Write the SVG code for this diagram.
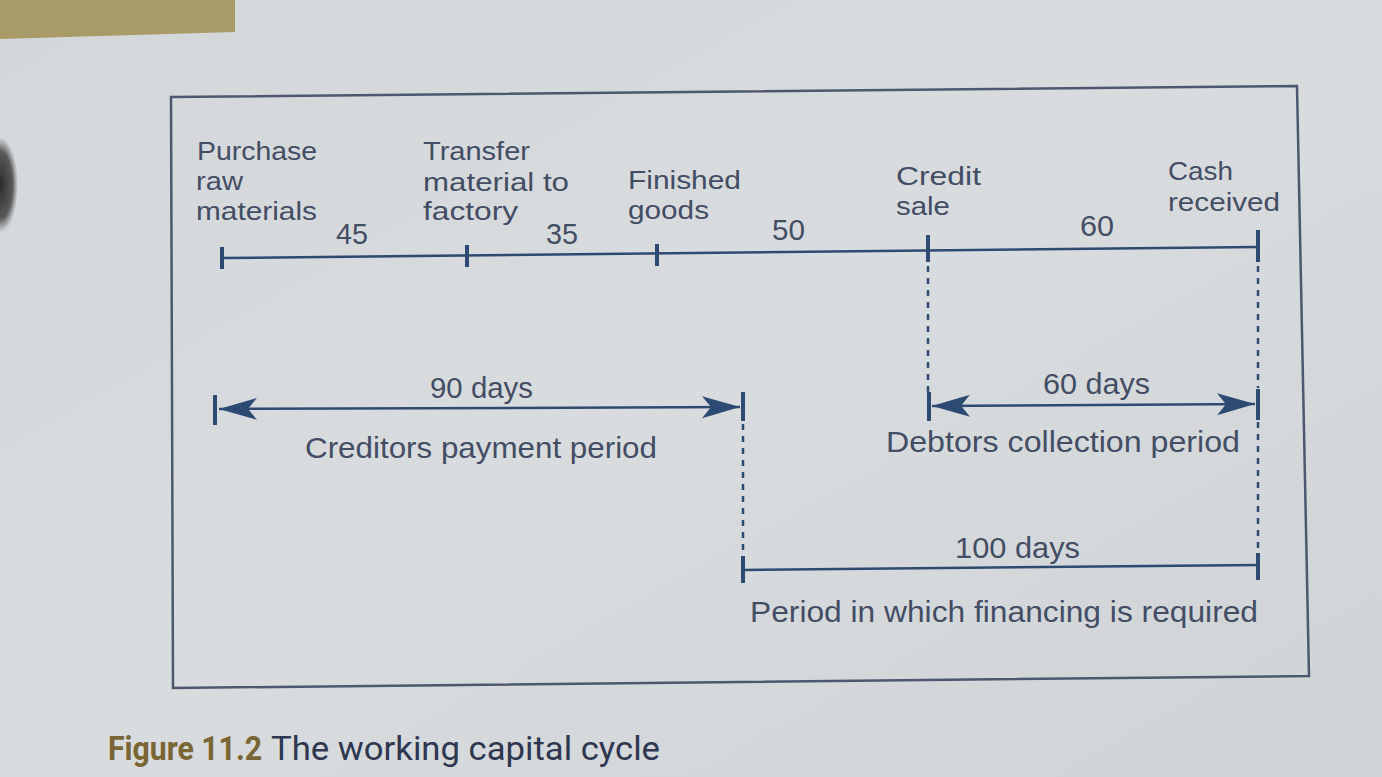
<svg xmlns="http://www.w3.org/2000/svg" width="1382" height="777" viewBox="0 0 1382 777">
<defs>
<linearGradient id="page" x1="0" y1="0" x2="1" y2="1">
<stop offset="0" stop-color="#d3d7da"/>
<stop offset="0.5" stop-color="#d9dcde"/>
<stop offset="1" stop-color="#cfd3d6"/>
</linearGradient>
<radialGradient id="blob" cx="0.5" cy="0.5" r="0.5">
<stop offset="0" stop-color="#2a2a2a"/>
<stop offset="0.7" stop-color="#3a3a3a" stop-opacity="0.8"/>
<stop offset="1" stop-color="#555" stop-opacity="0"/>
</radialGradient>
<marker id="ahEnd" viewBox="0 0 40 24" refX="38" refY="12" markerWidth="40" markerHeight="24" markerUnits="userSpaceOnUse" orient="auto">
<path d="M0,1 L38,12 L0,23 L9,12 Z" fill="#2d4a73"/>
</marker>
<marker id="ahStart" viewBox="0 0 40 24" refX="2" refY="12" markerWidth="40" markerHeight="24" markerUnits="userSpaceOnUse" orient="auto">
<path d="M40,1 L2,12 L40,23 L31,12 Z" fill="#2d4a73"/>
</marker>
</defs>
<style>
.t{font-family:"Liberation Sans",Arial,sans-serif;font-size:29px;fill:#434d64}
.s{font-size:26.5px}
.ln{stroke:#2f4a70;stroke-width:2.5;fill:none}
.tk{stroke:#2d4a73;stroke-width:4;fill:none}
.ds{stroke:#2d4a73;stroke-width:2.5;stroke-dasharray:6 6;fill:none}
.cap{font-family:Roboto,"Liberation Sans",sans-serif;font-size:33px}
</style>
<rect width="1382" height="777" fill="url(#page)"/>
<polygon points="0,0 235,0 235,32 0,39" fill="#a99b68"/>
<ellipse cx="0" cy="185" rx="18" ry="48" fill="url(#blob)"/>
<polygon points="171,97 1297,86 1309,676 173,688" fill="none" stroke="#4c5770" stroke-width="2.5"/>

<g id="connectors">
<line class="ln" x1="222" y1="258" x2="1258" y2="247"/>
<line class="tk" x1="222" y1="247" x2="222" y2="269"/>
<line class="tk" x1="467" y1="245" x2="467" y2="267"/>
<line class="tk" x1="657" y1="244" x2="657" y2="266"/>
<line class="tk" x1="928" y1="235" x2="928" y2="262"/>
<line class="tk" x1="1258" y1="230" x2="1258" y2="262"/>
<line class="ds" x1="928" y1="266" x2="928" y2="392"/>
<line class="ds" x1="1258" y1="266" x2="1258" y2="388"/>
<line class="ds" x1="1258" y1="422" x2="1258" y2="554"/>
<line class="ds" x1="743" y1="424" x2="743" y2="556"/>
<line class="tk" x1="215" y1="395" x2="215" y2="425"/>
<line class="tk" x1="743" y1="392" x2="743" y2="421"/>
<line class="ln" x1="219" y1="409" x2="740" y2="407" marker-start="url(#ahStart)" marker-end="url(#ahEnd)"/>
<line class="tk" x1="929" y1="392" x2="929" y2="421"/>
<line class="tk" x1="1258" y1="389" x2="1258" y2="420"/>
<line class="ln" x1="932" y1="406" x2="1255" y2="404" marker-start="url(#ahStart)" marker-end="url(#ahEnd)"/>
<line class="tk" x1="743" y1="556" x2="743" y2="583"/>
<line class="tk" x1="1258" y1="553" x2="1258" y2="580"/>
<line class="ln" x1="743" y1="570" x2="1258" y2="565"/>
</g>

<g id="purchase">
<text class="t s" x="197" y="160" textLength="120" lengthAdjust="spacingAndGlyphs">Purchase</text>
<text class="t s" x="196" y="190" textLength="47" lengthAdjust="spacingAndGlyphs">raw</text>
<text class="t s" x="196" y="220" textLength="121" lengthAdjust="spacingAndGlyphs">materials</text>
</g>
<g id="transfer">
<text class="t s" x="423" y="160" textLength="107" lengthAdjust="spacingAndGlyphs">Transfer</text>
<text class="t s" x="423" y="191" textLength="146" lengthAdjust="spacingAndGlyphs">material to</text>
<text class="t s" x="423" y="220" textLength="95" lengthAdjust="spacingAndGlyphs">factory</text>
</g>
<g id="finished">
<text class="t s" x="628" y="189" textLength="113" lengthAdjust="spacingAndGlyphs">Finished</text>
<text class="t s" x="628" y="219" textLength="81" lengthAdjust="spacingAndGlyphs">goods</text>
</g>
<g id="credit">
<text class="t s" x="896" y="185" textLength="85" lengthAdjust="spacingAndGlyphs">Credit</text>
<text class="t s" x="896" y="215" textLength="54" lengthAdjust="spacingAndGlyphs">sale</text>
</g>
<g id="cash">
<text class="t s" x="1168" y="180" textLength="65" lengthAdjust="spacingAndGlyphs">Cash</text>
<text class="t s" x="1168" y="211" textLength="112" lengthAdjust="spacingAndGlyphs">received</text>
</g>
<g id="days-labels">
<text class="t" x="336" y="244" textLength="32" lengthAdjust="spacingAndGlyphs">45</text>
<text class="t" x="546" y="244" textLength="32" lengthAdjust="spacingAndGlyphs">35</text>
<text class="t" x="772" y="240" textLength="33" lengthAdjust="spacingAndGlyphs">50</text>
<text class="t" x="1080" y="236" textLength="34" lengthAdjust="spacingAndGlyphs">60</text>
</g>
<g id="creditors">
<text class="t" x="430" y="398" textLength="103" lengthAdjust="spacingAndGlyphs">90 days</text>
<text class="t" x="305" y="458" textLength="352" lengthAdjust="spacingAndGlyphs">Creditors payment period</text>
</g>
<g id="debtors">
<text class="t" x="1043" y="394" textLength="107" lengthAdjust="spacingAndGlyphs">60 days</text>
<text class="t" x="886" y="452" textLength="354" lengthAdjust="spacingAndGlyphs">Debtors collection period</text>
</g>
<g id="financing">
<text class="t" x="955" y="558" textLength="125" lengthAdjust="spacingAndGlyphs">100 days</text>
<text class="t" x="750" y="622" textLength="508" lengthAdjust="spacingAndGlyphs">Period in which financing is required</text>
</g>
<g id="caption">
<text class="cap" x="108" y="760" fill="#7a6535" font-weight="bold" textLength="154" lengthAdjust="spacingAndGlyphs">Figure 11.2</text>
<text class="cap" x="271" y="760" fill="#2e3650" textLength="389" lengthAdjust="spacingAndGlyphs">The working capital cycle</text>
</g>
</svg>
